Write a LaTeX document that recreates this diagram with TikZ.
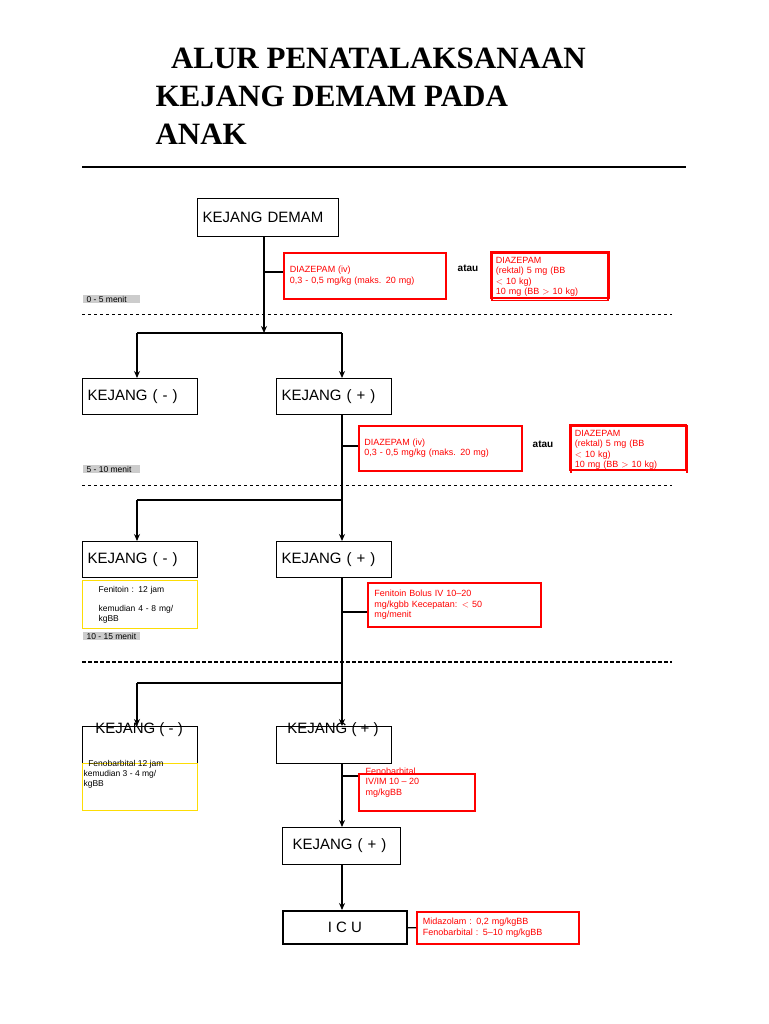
\documentclass[tikz,border=0pt]{standalone}
\usepackage{fontspec}
\setmainfont{Liberation Sans}
\newfontfamily\titlefont{Liberation Serif}
\tikzset{
  stage/.style={draw, line width=1.2pt, minimum height=36pt, text width=105pt, align=left, inner sep=5pt, font=\fontsize{15}{17}\selectfont, anchor=north west},
  dose/.style={draw=red, line width=1.8pt, text=red, anchor=north west, align=left, inner sep=4pt, font=\fontsize{9}{10.5}\selectfont},
  note/.style={draw=yellow!80!orange, line width=1.2pt, anchor=north west, align=left, inner sep=4pt, font=\fontsize{8.5}{10}\selectfont},
  phase/.style={fill=black!20, anchor=north west, inner sep=1pt, font=\fontsize{8.5}{9.5}\selectfont},
  orr/.style={font=\bfseries\fontsize{10}{11}\selectfont},
  sep/.style={dashed, line width=0.6pt},
  line/.style={line width=1.3pt},
  arr/.style={->, line width=1.3pt, >={Stealth[length=7pt,width=6pt]}}
}
\usetikzlibrary{arrows.meta}
\begin{document}
\begin{tikzpicture}[x=1pt, y=-1pt]
\useasboundingbox (0,0) rectangle (768,1024);
% title
\node[anchor=north west, align=left, font=\titlefont\bfseries\fontsize{31}{38}\selectfont] (title) at (152,44) {\ \ ALUR PENATALAKSANAAN\\KEJANG DEMAM PADA\\ANAK};
\draw[line] (82,167) -- (686,167);
% nodes
\node[stage, text width=131pt, minimum height=38pt] (demam) at (197,198) {KEJANG DEMAM};
\node[dose, minimum width=162pt, minimum height=46pt, text width=150pt] (diaz1) at (283,252) {DIAZEPAM (iv)\\0,3 - 0,5 mg/kg (maks. 20 mg)\\[10pt]};
\node[orr] (atau1) at (468,268) {atau};
\begin{scope}
\clip (489,250) rectangle (611,300);
\node[dose, text width=108pt] (rekt1) at (491,252) {DIAZEPAM\\(rektal) 5 mg (BB\\$<$ 10 kg)\\10 mg (BB $>$ 10 kg)};
\end{scope}
\draw[red, line width=1.8pt] (491,252) rectangle (609,298);
\node[phase] (t1) at (83,295) {\ 0 - 5 menit\ \ \ \ \ \ };
\draw[sep] (82,314) -- (672,314);
\coordinate (b1) at (264,333);
\node[stage] (neg1) at (82,378) {KEJANG ( - )};
\node[stage] (pos1) at (276,378) {KEJANG ( + )};
\node[dose, minimum width=163pt, minimum height=45pt, text width=152pt] (diaz2) at (358,425) {DIAZEPAM (iv)\\0,3 - 0,5 mg/kg (maks. 20 mg)\\[10pt]};
\node[orr] (atau2) at (543,444) {atau};
\begin{scope}
\clip (568,423) rectangle (688,472);
\node[dose, text width=108pt] (rekt2) at (570,425) {DIAZEPAM\\(rektal) 5 mg (BB\\$<$ 10 kg)\\10 mg (BB $>$ 10 kg)};
\end{scope}
\draw[red, line width=1.8pt] (570,425) rectangle (686,470);
\node[phase] (t2) at (83,465) {\ 5 - 10 menit\ \ \ \ };
\draw[sep] (82,485) -- (672,485);
\node[stage] (neg2) at (82,541) {KEJANG ( - )};
\node[stage] (pos2) at (276,541) {KEJANG ( + )};
\begin{scope}
\clip (80,579) rectangle (199,630);
\node[note, minimum width=115pt, minimum height=48pt, text width=100pt] (feni1) at (82,580) {\ \ \ Fenitoin : 12 jam\\[9pt]\ \ \ kemudian 4 - 8 mg/\\\ \ \ kgBB};
\end{scope}
\node[dose, minimum width=173pt, minimum height=44pt, text width=160pt] (feni2) at (367,582) {Fenitoin Bolus IV 10--20\\mg/kgbb Kecepatan: $<$ 50\\mg/menit};
\node[phase] (t3) at (83,632) {\ 10 - 15 menit\ \ };
\draw[dashed, line width=1.3pt, dash pattern=on 4pt off 2pt] (82,662) -- (672,662);
\node[stage, minimum height=37pt] (neg3) at (82,726) {};
\node[font=\fontsize{15}{17}\selectfont] at (139,730) {KEJANG ( - )};
\node[stage, minimum height=37pt] (pos3) at (276,726) {};
\node[font=\fontsize{15}{17}\selectfont] at (333,730) {KEJANG ( + )};
\node[note, minimum width=115pt, minimum height=47pt] (feno1) at (82,763) {};
\node[anchor=north west, align=left, font=\fontsize{8.5}{10}\selectfont] at (80,757) {\ \ Fenobarbital 12 jam\\kemudian 3 - 4 mg/\\kgBB};
\node[dose, minimum width=116pt, minimum height=37pt] (feno2) at (358,773) {};
\node[anchor=north west, align=left, text=red, font=\fontsize{9}{10.5}\selectfont] at (362,764) {Fenobarbital\\IV/IM 10 -- 20\\mg/kgBB};
\node[stage, text width=108pt, minimum height=37pt] (pos4) at (282,827) {\ KEJANG ( + )};
\node[draw, line width=2pt, anchor=north west, minimum width=124pt, minimum height=33pt, font=\fontsize{15}{17}\selectfont] (icu) at (282,910) {I C U};
\node[dose, minimum width=162pt, minimum height=32pt, text width=150pt] (mida) at (416,911) {Midazolam : 0,2 mg/kgBB\\Fenobarbital : 5--10 mg/kgBB};
% connectors
\draw[arr] (264,236) -- (b1);
\draw[line] (264,272) -- (diaz1.west |- 0,272);
\draw[line] (137,333) -- (342,333);
\draw[arr] (137,333) -- (neg1.north -| 137,0);
\draw[arr] (342,333) -- (pos1.north -| 342,0);
\draw[arr] (pos1.south -| 342,0) -- (pos2.north -| 342,0);
\draw[line] (342,446) -- (diaz2.west |- 0,446);
\draw[line] (137,500) -- (342,500);
\draw[arr] (137,500) -- (neg2.north -| 137,0);
\draw[line] (342,612) -- (feni2.west |- 0,612);
\draw[arr] (pos2.south -| 342,0) -- (pos3.north -| 342,0);
\draw[line] (137,683) -- (342,683);
\draw[arr] (137,683) -- (neg3.north -| 137,0);
\draw[line] (342,776) -- (feno2.west |- 0,776);
\draw[arr] (pos3.south -| 342,0) -- (pos4.north -| 342,0);
\draw[arr] (pos4.south -| 342,0) -- (icu.north -| 342,0);
\draw[line] (icu) -- (mida);
\end{tikzpicture}
\end{document}
